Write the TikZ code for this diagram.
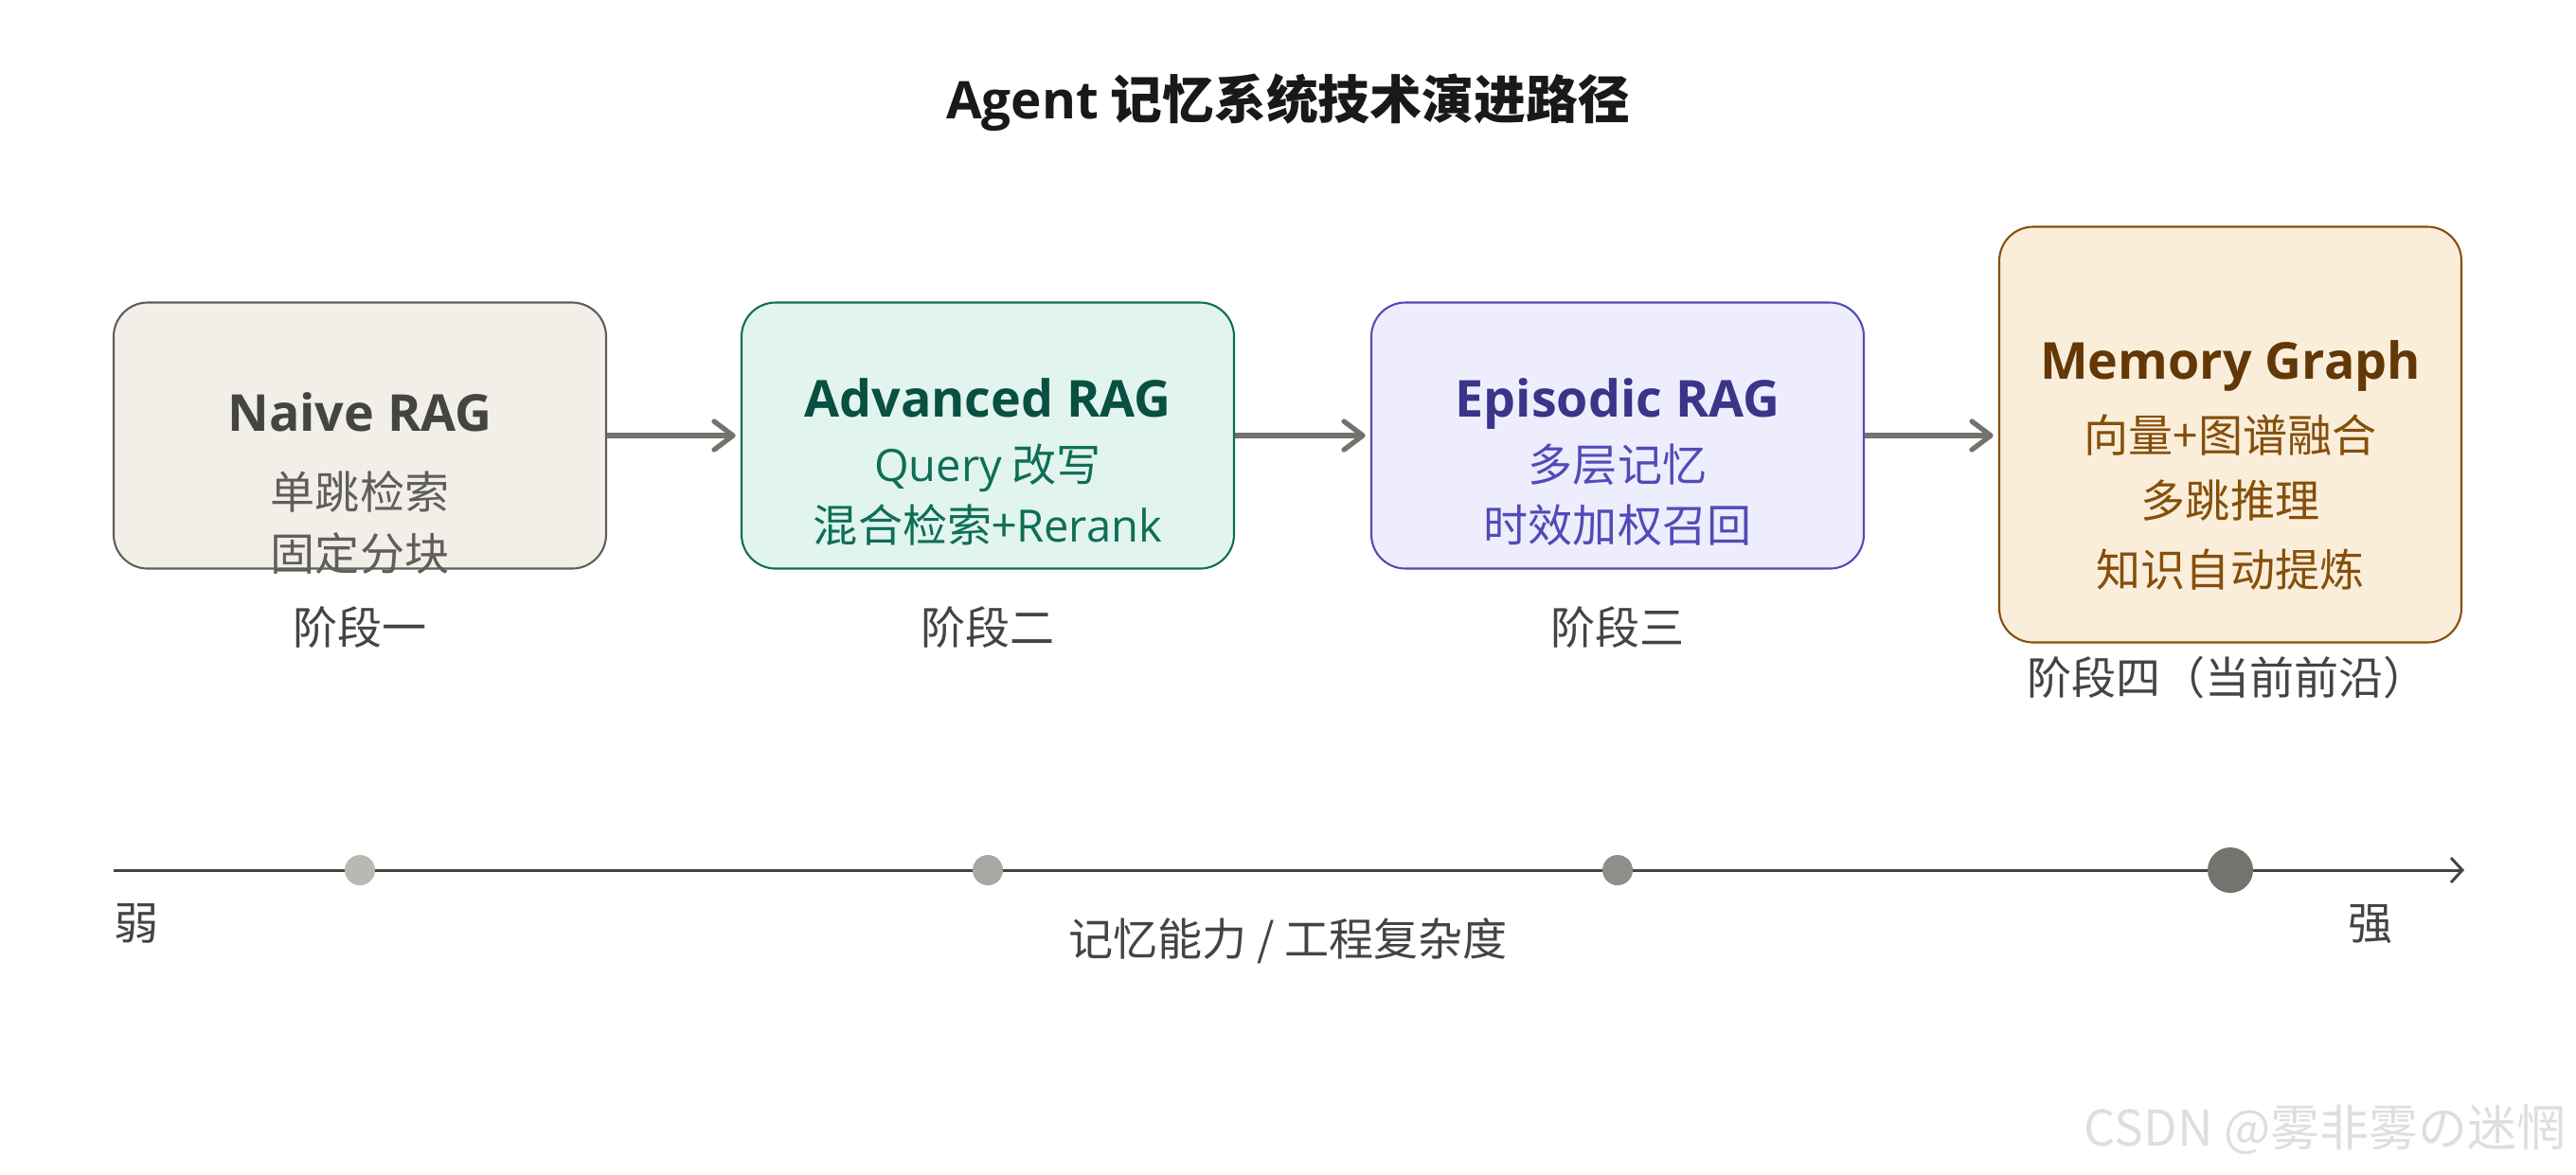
\documentclass[tikz,border=0pt]{standalone}
\usepackage{fontspec}
\setmainfont{Noto Sans CJK SC}
\newfontfamily\lat{Open Sans}
\usetikzlibrary{arrows.meta}

\definecolor{grayfill}{HTML}{F1EFE8}
\definecolor{graydraw}{HTML}{5F5E5A}
\definecolor{grayhead}{HTML}{444441}
\definecolor{tealfill}{HTML}{E1F5EE}
\definecolor{tealdraw}{HTML}{0F6E56}
\definecolor{tealhead}{HTML}{085041}
\definecolor{purpfill}{HTML}{EEEDFE}
\definecolor{purpdraw}{HTML}{534AB7}
\definecolor{purphead}{HTML}{3C3489}
\definecolor{ambrfill}{HTML}{FAEEDA}
\definecolor{ambrdraw}{HTML}{854F0B}
\definecolor{ambrhead}{HTML}{633806}
\definecolor{ink}{HTML}{444441}
\definecolor{flowgray}{HTML}{73726C}

\begin{document}
\begin{tikzpicture}[
  box/.style={rounded corners=0.36cm, line width=0.6pt, minimum width=5.2cm, minimum height=2.81cm},
  head/.style={font=\lat\fontsize{15.3}{18}\selectfont\bfseries, text height=11.5pt, text depth=0pt, inner sep=0pt},
  sub/.style={font=\fontsize{13.4}{16}\selectfont, text height=10.2pt, text depth=0pt, inner sep=0pt},
  flow/.style={draw=flowgray, line width=1.5pt, shorten >=1.5pt,
    -{Straight Barb[length=2.0mm, width=3.0mm, line join=round, line cap=round]}},
  axdot/.style={circle, inner sep=0pt, minimum size=#1}
]
\useasboundingbox (0,0) rectangle (27.2,-12.4);

% title
\node[font=\fontsize{15.6}{19}\selectfont\bfseries, text=black!90, inner sep=0pt] (title) at (13.60,-1.08)
  {{\lat Agent} 记忆系统技术演进路径};

% stage boxes
\node[box, fill=grayfill, draw=graydraw] (b1) at (3.80,-4.60) {};
\node[box, fill=tealfill, draw=tealdraw] (b2) at (10.43,-4.60) {};
\node[box, fill=purpfill, draw=purpdraw] (b3) at (17.08,-4.60) {};
\node[box, fill=ambrfill, draw=ambrdraw, minimum width=4.88cm, minimum height=4.39cm] (b4) at (23.55,-4.59) {};

\node[head, text=grayhead] (h1) at (3.80,-4.35) {Naive RAG};
\node[sub, text=graydraw] (s1a) at (3.80,-5.20) {单跳检索};
\node[sub, text=graydraw] (s1b) at (3.80,-5.85) {固定分块};

\node[head, text=tealhead] (h2) at (10.43,-4.20) {Advanced RAG};
\node[sub, text=tealdraw] (s2a) at (10.43,-4.91) {{\lat Query} 改写};
\node[sub, text=tealdraw] (s2b) at (10.43,-5.55) {混合检索+{\lat Rerank}};

\node[head, text=purphead] (h3) at (17.08,-4.20) {Episodic RAG};
\node[sub, text=purpdraw] (s3a) at (17.08,-4.91) {多层记忆};
\node[sub, text=purpdraw] (s3b) at (17.08,-5.55) {时效加权召回};

\node[head, text=ambrhead] (h4) at (23.55,-3.80) {Memory Graph};
\node[sub, text=ambrdraw] (s4a) at (23.55,-4.60) {向量+图谱融合};
\node[sub, text=ambrdraw] (s4b) at (23.55,-5.29) {多跳推理};
\node[sub, text=ambrdraw] (s4c) at (23.55,-6.02) {知识自动提炼};

% stage labels
\node[sub, text=ink] (l1) at (3.80,-6.63) {阶段一};
\node[sub, text=ink] (l2) at (10.43,-6.63) {阶段二};
\node[sub, text=ink] (l3) at (17.08,-6.63) {阶段三};
\node[sub, text=ink] (l4) at (23.52,-7.16) {阶段四（当前前沿）};

\draw[flow] (b1.east) -- (b2.west);
\draw[flow] (b2.east) -- (b3.west);
\draw[flow] (b3.east) -- (b3.east -| b4.west);

% capability axis
\coordinate (axl) at (1.20,-9.19);
\coordinate (axr) at (26.02,-9.19);
\draw[ink, line width=0.85pt, -{Straight Barb[length=1.2mm, width=2.6mm]}] (axl) -- (axr);
\foreach \x/\c/\s/\n in {3.80/B9B8B3/0.32/d1, 10.43/A9A8A4/0.32/d2, 17.08/8F8E88/0.32/d3, 23.55/74736E/0.48/d4} {
  \definecolor{dotc}{HTML}{\c}
  \node[axdot=\s cm, fill=dotc] (\n) at (\x,-9.19) {};
}
\node[sub, text=ink] (weak) at (1.44,-9.75) {弱};
\node[sub, text=ink] (strong) at (25.03,-9.75) {强};
\node[sub, text=ink] (axis) at (13.60,-9.92) {记忆能力 / 工程复杂度};

\node[font=\fontsize{14.8}{17}\selectfont, text=black!13, inner sep=0pt] (mark) at (24.55,-11.93) {CSDN @雾非雾の迷惘};
\end{tikzpicture}
\end{document}
